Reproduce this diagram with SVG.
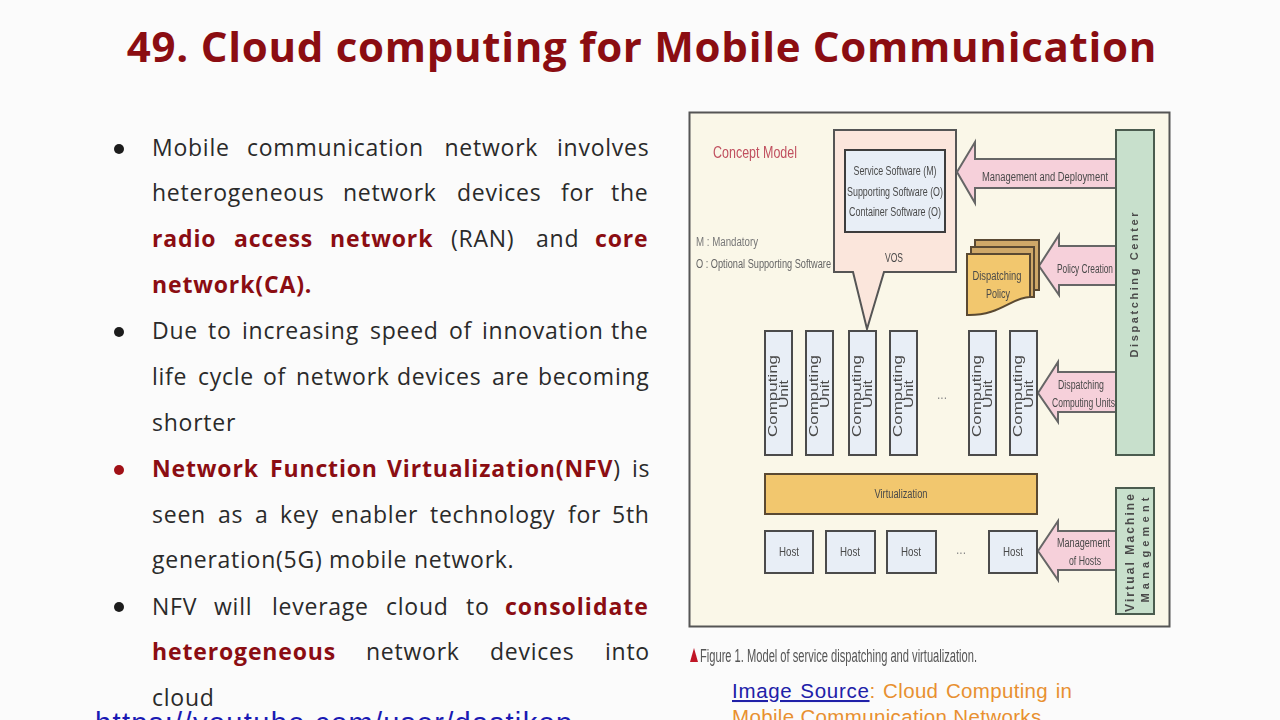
<svg xmlns="http://www.w3.org/2000/svg" width="1280" height="720" viewBox="0 0 1280 720">
<style>
.b{font-family:"Open Sans","Noto Sans",sans-serif;font-size:23px;fill:#2a2a2a;letter-spacing:.75px}
.r{fill:#8b0d12;font-weight:700;letter-spacing:.85px}
.d{font-family:"Liberation Sans",Arial,sans-serif;font-size:12px;fill:#4a4a4a}
.n{fill:#e8eef6;stroke:#4c4c4c;stroke-width:2}
.a{fill:#f6d0da;stroke:#666;stroke-width:2}
.g{fill:#c8e0cc;stroke:#4c5c50;stroke-width:2}
.o{fill:#f2c76e;stroke:#5a4a30;stroke-width:2}
.p{fill:#cfa868;stroke:#5a4a30;stroke-width:2}
</style>
<defs><filter id="soft" x="-2%" y="-2%" width="104%" height="104%"><feGaussianBlur stdDeviation="0.5"/></filter></defs>
<rect width="1280" height="720" fill="#fbfbfb"/>
<text id="title" x="642" y="62" text-anchor="middle" font-family="'Open Sans','Noto Sans',sans-serif" font-size="42" font-weight="700" fill="#8b0d12" letter-spacing=".72">49. Cloud computing for Mobile Communication</text>
<g id="bullets" fill="#1c1c1c">
<circle cx="119" cy="149" r="5"/><circle cx="119" cy="332" r="5"/><circle cx="119" cy="470" r="5" fill="#a01016"/><circle cx="119" cy="607" r="5"/>
</g>
<g id="body">
<text class="b" y="155.500"><tspan x="152">Mobile</tspan> <tspan x="247">communication</tspan> <tspan x="444.500">network</tspan> <tspan x="557">involves</tspan></text>
<text class="b" y="201"><tspan x="152">heterogeneous</tspan> <tspan x="343">network</tspan> <tspan x="457">devices</tspan> <tspan x="561">for</tspan> <tspan x="611">the</tspan></text>
<text class="b" y="247"><tspan x="152" class="r">radio</tspan> <tspan x="234" class="r">access</tspan> <tspan x="330" class="r">network</tspan> <tspan x="451">(RAN)</tspan> <tspan x="536">and</tspan> <tspan x="595" class="r">core</tspan></text>
<text class="b" y="292.500"><tspan x="152" class="r">network(CA).</tspan></text>
<text class="b" y="338.500"><tspan x="152">Due</tspan> <tspan x="208">to</tspan> <tspan x="242">increasing</tspan> <tspan x="370">speed</tspan> <tspan x="449">of</tspan> <tspan x="482">innovation</tspan> <tspan x="611">the</tspan></text>
<text class="b" y="384.500"><tspan x="152">life</tspan> <tspan x="198">cycle</tspan> <tspan x="263">of</tspan> <tspan x="296">network</tspan> <tspan x="397">devices</tspan> <tspan x="492">are</tspan> <tspan x="538">becoming</tspan></text>
<text class="b" y="430.500"><tspan x="152">shorter</tspan></text>
<text class="b" y="476.500"><tspan x="152" class="r">Network</tspan> <tspan x="270" class="r">Function</tspan> <tspan x="387" class="r">Virtualization(NFV</tspan><tspan>)</tspan> <tspan x="632">is</tspan></text>
<text class="b" y="522.500"><tspan x="152">seen</tspan> <tspan x="218">as</tspan> <tspan x="255">a</tspan> <tspan x="280">key</tspan> <tspan x="331">enabler</tspan> <tspan x="430">technology</tspan> <tspan x="568">for</tspan> <tspan x="612">5th</tspan></text>
<text class="b" y="567.500"><tspan x="152">generation(5G)</tspan> <tspan x="329">mobile</tspan> <tspan x="414">network.</tspan></text>
<text class="b" y="614.500"><tspan x="152">NFV</tspan> <tspan x="214">will</tspan> <tspan x="272">leverage</tspan> <tspan x="386">cloud</tspan> <tspan x="466">to</tspan> <tspan x="505" class="r" style="letter-spacing:1px">consolidate</tspan></text>
<text class="b" y="659.500"><tspan x="152" class="r">heterogeneous</tspan> <tspan x="366">network</tspan> <tspan x="490">devices</tspan> <tspan x="605">into</tspan></text>
<text class="b" y="706"><tspan x="152">cloud</tspan></text>
</g>
<text id="link" x="95" y="733" font-family="'Liberation Sans',Arial,sans-serif" font-size="29" letter-spacing="1.36" fill="#1a1ab4">https://youtube.com/user/dastikop</text>
<g id="figure" filter="url(#soft)">
<rect x="689.500" y="112.500" width="480" height="514" fill="#faf7e8" stroke="#555" stroke-width="2"/>
<text class="d" x="713" y="158" style="font-size:17px;fill:#c0505f" textLength="84" lengthAdjust="spacingAndGlyphs">Concept Model</text>
<text class="d" x="696" y="246" style="font-size:12px;fill:#777" textLength="62" lengthAdjust="spacingAndGlyphs">M : Mandatory</text>
<text class="d" x="696" y="268" style="font-size:12px;fill:#666" textLength="135" lengthAdjust="spacingAndGlyphs">O : Optional Supporting Software</text>
<g id="vos">
<path d="M834 130H956V272H884L867 329L853 272H834Z" fill="#fbe6dc" stroke="#555" stroke-width="2"/>
<rect x="845" y="150" width="100" height="82" fill="#e8eef6" stroke="#3c3c3c" stroke-width="2"/>
<text class="d" x="895" y="175" text-anchor="middle" textLength="83" lengthAdjust="spacingAndGlyphs">Service Software (M)</text>
<text class="d" x="895" y="196" text-anchor="middle" textLength="96" lengthAdjust="spacingAndGlyphs">Supporting Software (O)</text>
<text class="d" x="895" y="216" text-anchor="middle" textLength="92" lengthAdjust="spacingAndGlyphs">Container Software (O)</text>
<text class="d" x="894" y="262" text-anchor="middle" textLength="18" lengthAdjust="spacingAndGlyphs">VOS</text>
</g>
<g id="connectors">
<path class="a" d="M1116 159H975V142L957 172L975 203V188H1116Z"/>
<path class="a" d="M1116 246H1059V235L1039 266L1059 295V285H1116Z"/>
<path class="a" d="M1116 372H1058V362L1038 393L1058 422V412H1116Z"/>
<path class="a" d="M1116 531H1058V521L1038 551L1058 580V570H1116Z"/>
</g>
<text class="d" x="1045" y="181" text-anchor="middle" textLength="126" lengthAdjust="spacingAndGlyphs">Management and Deployment</text>
<text class="d" x="1085" y="273" text-anchor="middle" textLength="56" lengthAdjust="spacingAndGlyphs">Policy Creation</text>
<text class="d" x="1081" y="389" text-anchor="middle" textLength="46" lengthAdjust="spacingAndGlyphs">Dispatching</text>
<text class="d" x="1083.500" y="407" text-anchor="middle" textLength="63" lengthAdjust="spacingAndGlyphs">Computing Units</text>
<text class="d" x="1083.500" y="547" text-anchor="middle" textLength="53" lengthAdjust="spacingAndGlyphs">Management</text>
<text class="d" x="1085" y="565" text-anchor="middle" textLength="32" lengthAdjust="spacingAndGlyphs">of Hosts</text>
<g id="dispatch-center"><rect class="g" x="1116" y="130" width="38" height="325"/><text class="d" transform="translate(1138 285) rotate(-90)" text-anchor="middle" textLength="145" style="font-weight:700;font-size:11px">Dispatching Center</text></g>
<g id="vm-management"><rect class="g" x="1116" y="488" width="38" height="126"/><text class="d" transform="translate(1134 553) rotate(-90)" text-anchor="middle" textLength="118" style="font-size:12px;font-weight:700">Virtual Machine</text><text class="d" transform="translate(1149 550) rotate(-90)" text-anchor="middle" textLength="105" style="font-size:11px;font-weight:700">Management</text></g>
<g id="policy">
<rect class="p" x="975" y="240" width="64" height="50"/>
<rect class="p" x="971" y="247" width="63" height="50"/>
<path class="o" d="M967 254H1030V297C1012 297 1000 316 967 315Z"/>
<text class="d" x="997" y="280" text-anchor="middle" textLength="49" lengthAdjust="spacingAndGlyphs">Dispatching</text>
<text class="d" x="998" y="298" text-anchor="middle" textLength="24" lengthAdjust="spacingAndGlyphs">Policy</text>
</g>
<g id="units">
<rect class="n" x="765" y="331" width="27" height="124"/><rect class="n" x="806" y="331" width="27" height="124"/><rect class="n" x="849" y="331" width="27" height="124"/><rect class="n" x="890" y="331" width="27" height="124"/><rect class="n" x="969" y="331" width="27" height="124"/><rect class="n" x="1010" y="331" width="27" height="124"/>
<g class="d" style="font-size:12px">
<text transform="translate(777 396) rotate(-90)" text-anchor="middle" textLength="82" lengthAdjust="spacingAndGlyphs">Computing</text><text transform="translate(788 394) rotate(-90)" text-anchor="middle" textLength="28" lengthAdjust="spacingAndGlyphs">Unit</text>
<text transform="translate(818 396) rotate(-90)" text-anchor="middle" textLength="82" lengthAdjust="spacingAndGlyphs">Computing</text><text transform="translate(829 394) rotate(-90)" text-anchor="middle" textLength="28" lengthAdjust="spacingAndGlyphs">Unit</text>
<text transform="translate(861 396) rotate(-90)" text-anchor="middle" textLength="82" lengthAdjust="spacingAndGlyphs">Computing</text><text transform="translate(872 394) rotate(-90)" text-anchor="middle" textLength="28" lengthAdjust="spacingAndGlyphs">Unit</text>
<text transform="translate(902 396) rotate(-90)" text-anchor="middle" textLength="82" lengthAdjust="spacingAndGlyphs">Computing</text><text transform="translate(913 394) rotate(-90)" text-anchor="middle" textLength="28" lengthAdjust="spacingAndGlyphs">Unit</text>
<text transform="translate(981 396) rotate(-90)" text-anchor="middle" textLength="82" lengthAdjust="spacingAndGlyphs">Computing</text><text transform="translate(992 394) rotate(-90)" text-anchor="middle" textLength="28" lengthAdjust="spacingAndGlyphs">Unit</text>
<text transform="translate(1022 396) rotate(-90)" text-anchor="middle" textLength="82" lengthAdjust="spacingAndGlyphs">Computing</text><text transform="translate(1033 394) rotate(-90)" text-anchor="middle" textLength="28" lengthAdjust="spacingAndGlyphs">Unit</text>
</g>
<text class="d" x="942" y="399" text-anchor="middle" style="fill:#888">...</text>
</g>
<g id="virtualization"><rect class="o" x="765" y="474" width="272" height="40"/><text class="d" x="901" y="498" text-anchor="middle" textLength="53" lengthAdjust="spacingAndGlyphs">Virtualization</text></g>
<g id="hosts">
<rect class="n" x="765" y="531" width="48" height="42"/><rect class="n" x="826" y="531" width="49" height="42"/><rect class="n" x="887" y="531" width="49" height="42"/><rect class="n" x="989" y="531" width="48" height="42"/>
<text class="d" x="789" y="556" text-anchor="middle" textLength="20" lengthAdjust="spacingAndGlyphs">Host</text><text class="d" x="850" y="556" text-anchor="middle" textLength="20" lengthAdjust="spacingAndGlyphs">Host</text><text class="d" x="911" y="556" text-anchor="middle" textLength="20" lengthAdjust="spacingAndGlyphs">Host</text><text class="d" x="1013" y="556" text-anchor="middle" textLength="20" lengthAdjust="spacingAndGlyphs">Host</text>
<text class="d" x="961" y="554" text-anchor="middle" style="fill:#888">...</text>
</g>
<path d="M690 662L694 648L698 662Z" fill="#c01828"/>
<text class="d" x="700" y="662" style="font-size:18px;fill:#555" textLength="277" lengthAdjust="spacingAndGlyphs">Figure 1. Model of service dispatching and virtualization.</text>
</g>
<g id="source" font-family="'Liberation Sans',Arial,sans-serif" font-size="20.500" letter-spacing=".34">
<text x="732" y="698" fill="#e89030" word-spacing="1.500"><tspan fill="#2020a8" text-decoration="underline" letter-spacing=".7">Image Source</tspan>: Cloud Computing in</text>
<text x="732" y="724" fill="#e89030">Mobile Communication Networks</text>
</g>
</svg>
